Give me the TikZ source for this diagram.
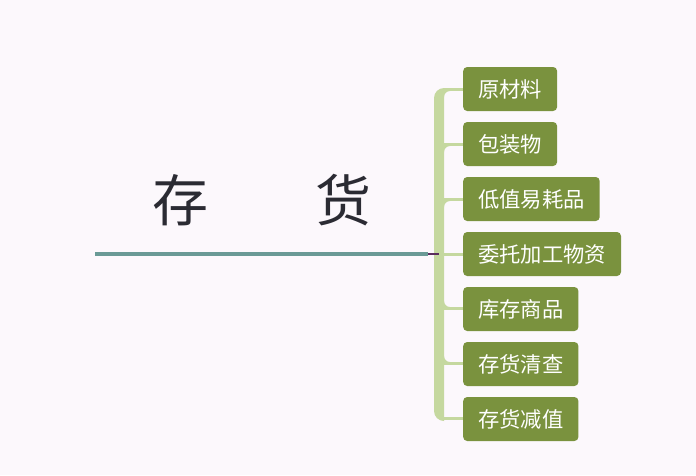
\documentclass[tikz,border=0pt]{standalone}
\usepackage{fontspec}
\newfontfamily\cjk{Noto Sans CJK SC}
\definecolor{bgc}{RGB}{252,248,252}
\definecolor{barc}{RGB}{197,216,159}
\definecolor{nodec}{RGB}{122,146,62}
\definecolor{linec}{RGB}{106,154,150}
\definecolor{purc}{RGB}{91,45,94}
\definecolor{titlec}{RGB}{43,43,51}
\tikzset{
  leaf/.style={fill=nodec, text=white, rounded corners=4pt, anchor=west,
    minimum height=44pt, inner xsep=15pt, inner ysep=0pt,
    font=\cjk\fontsize{21.3}{25}\selectfont},
  branch/.style={draw=barc, line width=3pt},
}
\newcommand{\fillet}[2]{% #1 = branch edge y, #2 = direction (+1 below, -1 above)
  \fill[barc] (444,#1) -- (444,{#1+#2*6}) .. controls (444,{#1+#2*2.69}) and (446.69,#1) .. (450,#1) -- cycle;}
\begin{document}
\begin{tikzpicture}[x=1pt,y=-1pt]
\fill[bgc] (0,0) rectangle (696,475);
\useasboundingbox (0,0) rectangle (696,475);
% title and main line
\node[text=titlec, font=\cjk\fontsize{56}{60}\selectfont, inner sep=0pt] (title) at (262,200) {存\hspace{108pt}货};
\coordinate (ls) at (95,254);
\coordinate (lm) at (428,254);
\coordinate (junc) at (439,254);
\draw[linec, line width=4pt] (ls) -- (lm);
% bar
\fill[barc] (434,98) .. controls (434,92.48) and (438.48,88) .. (444,88) -- (444,421)
  .. controls (438.48,421) and (434,416.48) .. (434,411) -- cycle;
% leaves
\node[leaf] (n1) at (463,89) {原材料};
\node[leaf] (n2) at (463,144) {包装物};
\node[leaf] (n3) at (463,199) {低值易耗品};
\node[leaf] (n4) at (463,254) {委托加工物资};
\node[leaf] (n5) at (463,309) {库存商品};
\node[leaf] (n6) at (463,364) {存货清查};
\node[leaf] (n7) at (463,419) {存货减值};
% branches
\foreach \n/\y in {n1/89.5,n2/144.5,n3/199.5,n4/254,n5/308.5,n6/363.5,n7/418.5}{
  \coordinate (b\n) at (443,\y);
  \draw[branch] (b\n) -- (\n.west |- b\n);
}
\fillet{91}{1}
\fillet{146}{1}
\fillet{201}{1}
\fillet{307}{-1}
\fillet{362}{-1}
\draw[purc, line width=2pt] (lm) -- (junc);
\end{tikzpicture}
\end{document}
